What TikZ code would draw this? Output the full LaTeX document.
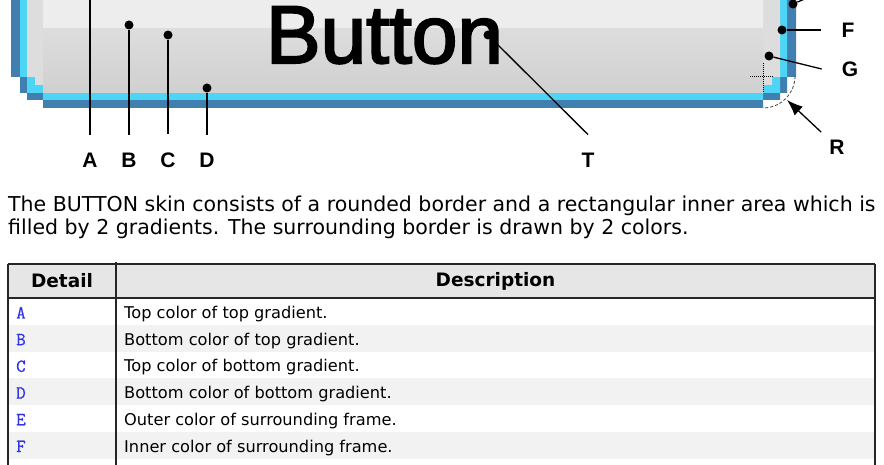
\documentclass[tikz,border=0pt]{standalone}
\usepackage{fontspec}
\setmainfont{DejaVu Sans}
\newfontfamily\lblfont{Liberation Sans}
\newfontfamily\btnfont[FakeBold=2.5]{Liberation Sans}
\newfontfamily\keyfont[FakeBold=0.8]{Latin Modern Mono}
\usetikzlibrary{positioning, arrows.meta}

\definecolor{frameout}{RGB}{64,127,175}
\definecolor{framein}{RGB}{77,213,245}
\definecolor{innergray}{RGB}{221,221,221}
\definecolor{gradtop}{RGB}{237,237,237}
\definecolor{gradmid}{RGB}{221,221,221}
\definecolor{gradbot}{RGB}{208,208,208}
\definecolor{hdrgray}{RGB}{230,230,230}
\definecolor{rowgray}{RGB}{242,242,242}
\definecolor{detailblue}{RGB}{51,51,230}

\begin{document}
\begin{tikzpicture}[x=1pt, y=-1pt, node distance = 39pt, on grid,
dot/.style ={circle, fill=black, inner sep=0pt, minimum size=9pt},
lbl/.style ={inner xsep=20pt, inner ysep=18pt, font=\lblfont\bfseries\fontsize{21}{21}\selectfont},
call/.style ={black, line width=1.3pt},
key/.style ={anchor=base west, inner sep=0pt, text=detailblue, font=\keyfont\fontsize{18.5}{18}\selectfont},
desc/.style ={anchor=base west, inner sep=0pt, font=\fontsize{16.2}{16}\selectfont},
hdr/.style ={inner sep=0pt, font=\bfseries\fontsize{18.5}{18}\selectfont},
para/.style ={anchor=base west, inner sep=0pt, font=\fontsize{20.5}{24}\selectfont},
tbl/.style ={black!85, line width=1.2pt}]
\useasboundingbox (0,0) rectangle (884,465);
\clip (0,0) rectangle (884,465);

% button skin
\fill[frameout] (11,-5) -- (11,77) -- (20,77) -- (20,93) -- (27,93) -- (27,100) -- (43,100) -- (43,108)
  -- (763,108) -- (763,100) -- (780,100) -- (780,93) -- (787,93) -- (787,77) -- (796,77) -- (796,-5) -- cycle;
\fill[framein] (20,-5) -- (20,77) -- (27,77) -- (27,93) -- (43,93) -- (43,100)
  -- (763,100) -- (763,93) -- (780,93) -- (780,77) -- (787,77) -- (787,-5) -- cycle;
\fill[innergray] (27,-5) -- (27,77) -- (35,77) -- (35,85) -- (43,85) -- (43,93)
  -- (763,93) -- (763,85) -- (772,85) -- (772,77) -- (780,77) -- (780,-5) -- cycle;
\fill[gradtop] (43,-5) rectangle (763,29);
\shade[top color=gradmid, bottom color=gradbot] (43,29) rectangle (763,93);
\node[anchor=base, inner sep=0pt, font=\btnfont\fontsize{82}{82}\selectfont] (btn) at (384.5,63) {Button};

% radius marker
\draw[black, line width=0.8pt, dash pattern=on 1pt off 1pt] (763,63) -- (763,93);
\draw[black, line width=0.8pt, dash pattern=on 1pt off 1pt] (750,76) -- (773,76);
\draw[black!75, line width=0.8pt, dash pattern=on 3pt off 2pt] (795,76) arc[start angle=0, end angle=90, radius=32];

% callouts
\coordinate (pA) at (90,-10);
\node[dot] (pB) at (129,25) {};
\node[dot] (pC) at (168,35) {};
\node[dot] (pD) at (207,88) {};
\node[dot] (pT) at (488,35) {};
\node[dot] (pE) at (793,4) {};
\node[dot] (pF) at (782,30) {};
\node[dot] (pG) at (769,56) {};
\coordinate (cE) at (830,-12);
\coordinate (pR) at (787,100);

\node[lbl] (A) at (90,160) {A};
\node[lbl] (B) [right = of A] {B};
\node[lbl] (C) [right = of B] {C};
\node[lbl] (D) [right = of C] {D};
\node[lbl] (T) at (588,160) {T};
\node[lbl] (F) at (848,30) {F};
\node[lbl] (G) at (850,69) {G};
\node[lbl, inner sep=8pt] (R) at (837,147) {R};

\draw[call] (pA) -- (A.north);
\draw[call] (pB) -- (B.north);
\draw[call] (pC) -- (C.north);
\draw[call] (pD) -- (D.north);
\draw[call] (pT) -- (T.north);
\draw[call] (pE) -- (cE);
\draw[call] (pF) -- (F.west);
\draw[call] (pG) -- (G.west);
\draw[call, -{Latex[length=16pt, width=12pt]}] (R) -- (pR);

% text
\node[para] (p1) at (8,212) {The BUTTON skin consists of a rounded border and a rectangular inner area which is};
\node[para] (p2) at (8,235) {filled by 2 gradients. The surrounding border is drawn by 2 colors.};

% table
\fill[hdrgray] (8,264) rectangle (875,298);
\fill[rowgray] (8,325) rectangle (875,352);
\fill[rowgray] (8,378) rectangle (875,405);
\fill[rowgray] (8,432) rectangle (875,459);
\draw[tbl] (8,264) -- (875,264);
\draw[tbl] (8,298) -- (875,298);
\draw[tbl] (8,264) -- (8,465);
\draw[tbl] (116,262) -- (116,465);
\draw[tbl] (875,264) -- (875,465);

\node[hdr] (hDetail) at (62,281) {Detail};
\node[hdr] (hDesc) at (495.5,281) {Description};

\node[key] (kA) at (16,318.5) {A};
\node[key] (kB) at (16,345.2) {B};
\node[key] (kC) at (16,371.9) {C};
\node[key] (kD) at (16,398.6) {D};
\node[key] (kE) at (16,425.3) {E};
\node[key] (kF) at (16,452) {F};

\node[desc] (tA) at (124,318.5) {Top color of top gradient.};
\node[desc] (tB) at (124,345.2) {Bottom color of top gradient.};
\node[desc] (tC) at (124,371.9) {Top color of bottom gradient.};
\node[desc] (tD) at (124,398.6) {Bottom color of bottom gradient.};
\node[desc] (tE) at (124,425.3) {Outer color of surrounding frame.};
\node[desc] (tF) at (124,452) {Inner color of surrounding frame.};
\end{tikzpicture}
\end{document}
